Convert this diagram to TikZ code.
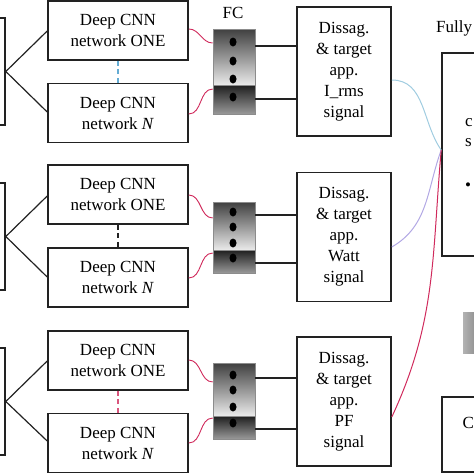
\documentclass[tikz,border=0pt]{standalone}
\usepackage{fontspec}
\setmainfont{Liberation Serif}
\usepackage{tikz}
\usetikzlibrary{calc}
\usetikzlibrary{positioning}
\usetikzlibrary{shapes.geometric}

\definecolor{linkred}{RGB}{208,42,92}
\definecolor{linkblue}{RGB}{160,204,224}
\definecolor{gapblue}{RGB}{100,172,212}
\definecolor{linklilac}{RGB}{178,168,228}
\definecolor{boxline}{RGB}{34,34,34}

\tikzset{
  box/.style={rectangle, draw=boxline, line width=1.6pt, fill=white, align=center, inner sep=0pt, font=\fontsize{17}{21}\selectfont},
  cnnbox/.style={box, minimum width=140pt, minimum height=59pt},
  inbox/.style={box, minimum width=50pt, minimum height=107pt},
  tgtbox/.style={box, minimum width=94pt, minimum height=129pt},
  fcup/.style={rectangle, draw=black!45, line width=0.6pt, minimum width=42pt, inner sep=0pt, top color=black!75, bottom color=black!8},
  fclow/.style={rectangle, draw=black!45, line width=0.6pt, minimum width=42pt, inner sep=0pt, top color=black!88, bottom color=black!40},
  fcdot/.style={ellipse, fill=black, minimum width=7pt, minimum height=9pt, inner sep=0pt},
  label/.style={inner sep=0pt, font=\fontsize{17}{21}\selectfont},
  wire/.style={draw=boxline, line width=1.2pt},
  redlink/.style={draw=linkred, line width=0.9pt},
  netgap/.style={line width=1.2pt, dash pattern=on 5pt off 3.5pt},
}

\begin{document}
\begin{tikzpicture}[x=1pt, y=-1pt]

\useasboundingbox (0,0) rectangle (474,474);
\clip (0,0) rectangle (474,474);

%% group one: I_rms
\node at (-20,71.5) [inbox] (inA) {};
\node at (118,30.5) [cnnbox] (cnnA1) {Deep CNN\\network ONE};
\node at (118,113) [cnnbox] (cnnA2) {Deep CNN\\network \textit{N}};
\node at (234,57) [fcup, minimum height=56pt] (fcAup) {};
\node at (234,99.5) [fclow, minimum height=29pt] (fcAlow) {};
\node at (233,42) [fcdot] (dA1) {};
\node at (233,61) [fcdot] (dA2) {};
\node at (233,79) [fcdot] (dA3) {};
\node at (233,97) [fcdot] (dA4) {};
\node at (233,13) [label] (fclabel) {FC};
\node at (344,71.5) [tgtbox] (tgtA) {Dissag.\\\& target\\app.\\I\_rms\\signal};

%% group two: Watt
\node at (-20,236.5) [inbox] (inB) {};
\node at (118,194.5) [cnnbox] (cnnB1) {Deep CNN\\network ONE};
\node at (118,277.5) [cnnbox] (cnnB2) {Deep CNN\\network \textit{N}};
\node at (234,226) [fcup, minimum height=48pt] (fcBup) {};
\node at (234,261.5) [fclow, minimum height=23pt] (fcBlow) {};
\node at (233,212) [fcdot] (dB1) {};
\node at (233,227) [fcdot] (dB2) {};
\node at (233,243) [fcdot] (dB3) {};
\node at (233,258) [fcdot] (dB4) {};
\node at (344,237) [tgtbox] (tgtB) {Dissag.\\\& target\\app.\\Watt\\signal};

%% group three: PF
\node at (-20,401.5) [inbox] (inC) {};
\node at (118,360.5) [cnnbox] (cnnC1) {Deep CNN\\network ONE};
\node at (118,443) [cnnbox] (cnnC2) {Deep CNN\\network \textit{N}};
\node at (234,389.5) [fcup, minimum height=53pt] (fcCup) {};
\node at (234,427.5) [fclow, minimum height=23pt] (fcClow) {};
\node at (233,375) [fcdot] (dC1) {};
\node at (233,390) [fcdot] (dC2) {};
\node at (233,407) [fcdot] (dC3) {};
\node at (233,423) [fcdot] (dC4) {};
\node at (344,401.5) [tgtbox] (tgtC) {Dissag.\\\& target\\app.\\PF\\signal};

%% fully connected part on the right
\node at (436,28) [label, anchor=west] (fulllabel) {Fully};
\node at (486,154.5) [box, minimum width=88pt, minimum height=203pt] (fullbox) {};
\node at (465,123) [label, anchor=west] (fullc) {c};
\node at (465,143) [label, anchor=west] (fulls) {s};
\node at (465,187) [label, anchor=west] (fulldot) {\textbullet};
\node at (480,332.5) [rectangle, inner sep=0pt, minimum width=34pt, minimum height=41pt, left color=black!30, right color=black!65] (fcout) {};
\node at (486,434.5) [box, minimum width=88pt, minimum height=75pt] (outbox) {};
\node at (462.5,423) [label, anchor=west] (outc) {C};
\coordinate (join) at (fullbox.west |- 0,150);

\begin{scope}
	\draw [wire] (inA.east) -- (cnnA1.west |- 0,31);
	\draw [wire] (inA.east) -- (cnnA2.west |- 0,112);
	\draw [wire] (inB.east) -- (cnnB1.west |- 0,196);
	\draw [wire] (inB.east) -- (cnnB2.west |- 0,277);
	\draw [wire] (inC.east) -- (cnnC1.west |- 0,361);
	\draw [wire] (inC.east) -- (cnnC2.west |- 0,441);

	\draw [netgap, draw=gapblue] (cnnA1.south) -- (cnnA2.north);
	\draw [netgap, draw=boxline] (cnnB1.south) -- (cnnB2.north);
	\draw [netgap, draw=linkred!80] (cnnC1.south) -- (cnnC2.north);

	\draw [redlink] (cnnA1.east |- 0,29) to [out=0, in=180] (fcAup.west |- 0,43);
	\draw [redlink] (cnnA2.east |- 0,114) to [out=0, in=180] (fcAlow.west |- 0,89);
	\draw [redlink] (cnnB1.east |- 0,195) to [out=0, in=180] (fcBup.west |- 0,218);
	\draw [redlink] (cnnB2.east |- 0,278) to [out=0, in=180] (fcBlow.west |- 0,253);
	\draw [redlink] (cnnC1.east |- 0,360) to [out=0, in=180] (fcCup.west |- 0,382);
	\draw [redlink] (cnnC2.east |- 0,443) to [out=0, in=180] (fcClow.west |- 0,418);

	\draw [wire] (fcAup.east |- 0,46) -- (tgtA.west |- 0,46);
	\draw [wire] (fcAlow.east |- 0,99) -- (tgtA.west |- 0,99);
	\draw [wire] (fcBup.east |- 0,215) -- (tgtB.west |- 0,215);
	\draw [wire] (fcBlow.east |- 0,263) -- (tgtB.west |- 0,263);
	\draw [wire] (fcCup.east |- 0,378) -- (tgtC.west |- 0,378);
	\draw [wire] (fcClow.east |- 0,429) -- (tgtC.west |- 0,429);

	\draw [draw=linkblue, line width=1pt] (tgtA.east |- 0,80) to [out=0, in=125] (join);
	\draw [draw=linklilac, line width=1pt] (tgtB.east |- 0,247) to [out=30, in=-110] (join);
	\draw [redlink, line width=1pt] (tgtC.east |- 0,417) to [out=65, in=-95] (join);
\end{scope}

\end{tikzpicture}
\end{document}
